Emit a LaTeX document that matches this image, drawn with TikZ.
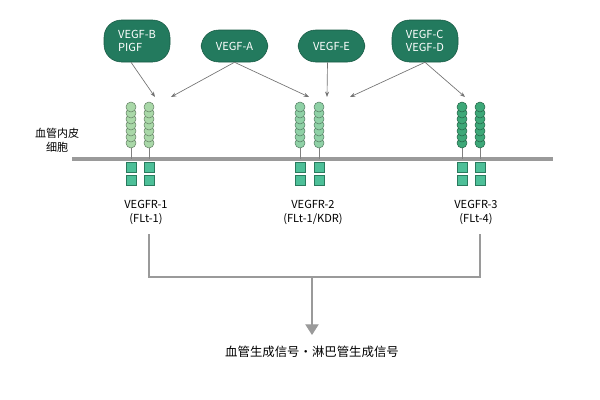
\documentclass[tikz,border=0pt]{standalone}
\usepackage{fontspec}
\setmainfont{Noto Sans CJK SC}
\usetikzlibrary{arrows.meta}
\definecolor{lig}{HTML}{237A5E}
\definecolor{ligd}{HTML}{1A5A45}
\definecolor{memb}{HTML}{9A9A9A}
\definecolor{sq}{HTML}{4DBF98}
\definecolor{sqd}{HTML}{2A7A5E}
\definecolor{rA}{HTML}{A9D8A8}
\definecolor{rB}{HTML}{8FD1A6}
\definecolor{rC}{HTML}{3DA878}
\begin{document}
\begin{tikzpicture}[x=0.75pt,y=0.75pt,yscale=-1,
  lig/.style={draw=ligd,fill=lig,rounded corners=13pt,text=white,font=\fontsize{8.3}{10}\selectfont,align=left,inner sep=0pt},
  arr/.style={draw=gray!90!black,line width=0.5pt,-{Stealth[length=4pt,width=3pt]}},
  lbl/.style={font=\fontsize{8.3}{10.5}\selectfont,align=center}]
\useasboundingbox (0,0) rectangle (600,400);
% ligands
\node[lig,minimum width=49.5pt,minimum height=31.5pt] (b) at (137,41) {VEGF-B\\PIGF};
\node[lig,minimum width=50pt,minimum height=24pt] (a) at (234.5,46) {VEGF-A};
\node[lig,minimum width=50pt,minimum height=24pt] (e) at (331.5,46) {VEGF-E};
\node[lig,minimum width=49.5pt,minimum height=31.5pt] (c) at (425,41) {VEGF-C\\VEGF-D};
% membrane
\draw[memb,line width=3pt] (72,159) -- (553,159);
\node[lbl,anchor=east] (cell) at (84,140) {血管内皮\\细胞};
% receptors
\foreach \x/\col in {131/rA,149/rA,300/rB,319/rB,462/rC,480/rC}{
  \draw[gray,line width=0.6pt] (\x,147) -- (\x,159);
  \foreach \k in {0,...,6}
    \draw[fill=\col,draw=\col!60!black,line width=0.4pt] (\x,{143-\k*6}) circle (5);
  \draw[fill=sq,draw=sqd,line width=0.4pt] (\x-5,162) rectangle (\x+5,172);
  \draw[fill=sq,draw=sqd,line width=0.4pt] (\x-5,175) rectangle (\x+5,185);
}
\coordinate (t1) at (155,97);
\coordinate (t2) at (171,97);
\coordinate (t3) at (309,97);
\coordinate (t4) at (327,97);
\coordinate (t5) at (350,97);
\coordinate (t6) at (465,97);
\draw[arr] (b.south) ++(-6,0) -- (t1);
\draw[arr] (a.south) -- (t2);
\draw[arr] (a.south) -- (t3);
\draw[arr] (e.south) ++(-4,0) -- (t4);
\draw[arr] (c.south) -- (t5);
\draw[arr] (c.south) -- (t6);
% labels
\node[lbl] (r1) at (146,212) {VEGFR-1\\(FLt-1)};
\node[lbl] (r2) at (313,212) {VEGFR-2\\(FLt-1/KDR)};
\node[lbl] (r3) at (476,212) {VEGFR-3\\(FLt-4)};
% signal bracket
\coordinate (j) at (312,277);
\node[font=\fontsize{9.3}{11}\selectfont] (sig) at (312,352) {血管生成信号·淋巴管生成信号};
\draw[memb,line width=0.8pt] (149,234) |- (480,277) -- (480,234);
\draw[memb,line width=0.8pt,-{Triangle[length=8pt,width=10pt]}] (j) -- (312,335);
\end{tikzpicture}
\end{document}
